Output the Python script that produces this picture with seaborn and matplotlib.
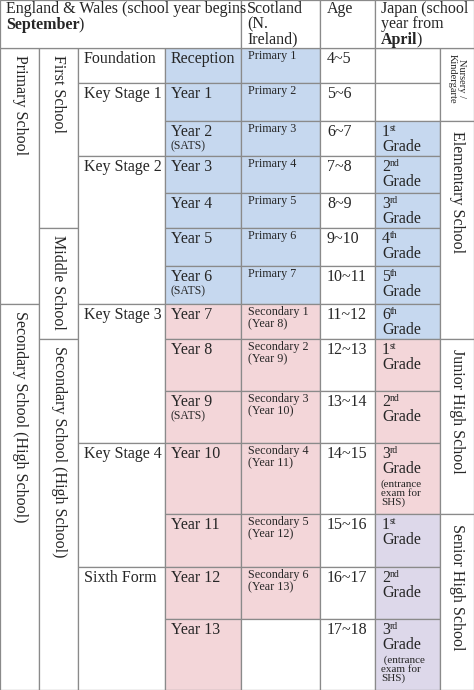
import matplotlib
matplotlib.use('Agg')
import matplotlib.pyplot as plt
import seaborn as sns
from matplotlib.patches import Rectangle

# grid geometry (pixels)
col_edges = [0, 39, 78, 165, 241, 320, 375, 440, 474]
row_edges = [48, 83, 121, 156, 193, 228, 266, 304, 339, 391, 443, 514, 567, 619, 690]

years = ["Reception", "Year 1", "Year 2", "Year 3", "Year 4", "Year 5", "Year 6",
         "Year 7", "Year 8", "Year 9", "Year 10", "Year 11", "Year 12", "Year 13"]
sats = ["", "", "(SATS)", "", "", "", "(SATS)", "", "", "(SATS)", "", "", "", ""]
scotland = ["Primary 1", "Primary 2", "Primary 3", "Primary 4", "Primary 5", "Primary 6",
            "Primary 7", "Secondary 1\n(Year 8)", "Secondary 2\n(Year 9)",
            "Secondary 3\n(Year 10)", "Secondary 4\n(Year 11)", "Secondary 5\n(Year 12)",
            "Secondary 6\n(Year 13)", ""]
ages = ["4~5", "5~6", "6~7", "7~8", "8~9", "9~10", "10~11", "11~12", "12~13",
        "13~14", "14~15", "15~16", "16~17", "17~18"]
japan_num = ["", "", "1", "2", "3", "4", "5", "6", "1", "2", "3", "1", "2", "3"]
japan_sup = ["", "", "st", "nd", "rd", "th", "th", "th", "st", "nd", "rd", "st", "nd", "rd"]
japan_note = ["", "", "", "", "", "", "", "", "", "", "(entrance\nexam for\nSHS)", "", "",
              " (entrance\nexam for\nSHS)"]
year_colour = ["blue"] * 7 + ["pink"] * 7
scot_colour = ["blue"] * 7 + ["pink"] * 6 + [None]
japan_colour = [None, None] + ["blue"] * 6 + ["pink"] * 3 + ["lav"] * 3

# (label, first row, last row)
school_a = [("Primary School", 0, 6), ("Secondary School (High School)", 7, 13)]
school_b = [("First School", 0, 4), ("Middle School", 5, 7), ("Secondary School (High School)", 8, 13)]
stages = [("Foundation", 0, 0), ("Key Stage 1", 1, 2), ("Key Stage 2", 3, 6),
          ("Key Stage 3", 7, 9), ("Key Stage 4", 10, 11), ("Sixth Form", 12, 13)]
japan_schools = [("Nursery /\nKindergarte", 0, 1), ("Elementary School", 2, 7),
                 ("Junior High School", 8, 10), ("Senior High School", 11, 13)]

colours = {"blue": "#c6d8ef", "pink": "#f3d6d9", "lav": "#ddd8ea"}
line_c = "#8a8a8a"

sns.set_style("white")
plt.rcParams['font.family'] = ['Liberation Serif', 'DejaVu Serif']

fig = plt.figure(figsize=(4.74, 6.9), dpi=100)
ax = fig.add_axes([0, 0, 1, 1])
ax.set_xlim(0, 474)
ax.set_ylim(690, 0)
ax.axis("off")


def cell(c, r0, r1, colour=None):
    x0, x1 = col_edges[c], col_edges[c + 1]
    y0, y1 = row_edges[r0], row_edges[r1 + 1]
    ax.add_patch(Rectangle((x0, y0), x1 - x0, y1 - y0, facecolor=colours.get(colour, "white"),
                           edgecolor=line_c, linewidth=0.9))
    return x0, y0, x1, y1


fs = 11.5
for lab, r0, r1 in school_a:
    x0, y0, x1, y1 = cell(0, r0, r1)
    ax.text((x0 + x1) / 2, y0 + 7, lab, rotation=-90, ha="center", va="top", fontsize=fs)
for lab, r0, r1 in school_b:
    x0, y0, x1, y1 = cell(1, r0, r1)
    ax.text((x0 + x1) / 2, y0 + 7, lab, rotation=-90, ha="center", va="top", fontsize=fs)
for lab, r0, r1 in stages:
    x0, y0, x1, y1 = cell(2, r0, r1)
    ax.text(x0 + 6, y0 + 3, lab, ha="left", va="top", fontsize=fs)

for i in range(len(years)):
    x0, y0, x1, y1 = cell(3, i, i, year_colour[i])
    ax.text(x0 + 6, y0 + 3, years[i], ha="left", va="top", fontsize=fs)
    if sats[i]:
        ax.text(x0 + 6, y0 + 19, sats[i], ha="left", va="top", fontsize=8.5)
    x0, y0, x1, y1 = cell(4, i, i, scot_colour[i])
    ax.text(x0 + 7, y0 + 2, scotland[i], ha="left", va="top", fontsize=8.7, linespacing=1.0)
    x0, y0, x1, y1 = cell(5, i, i)
    ax.text(x0 + 7, y0 + 3, ages[i], ha="left", va="top", fontsize=fs)

for i in range(len(years)):
    x0, y0, x1, y1 = cell(6, i, i, japan_colour[i])
    if japan_num[i]:
        ax.text(x0 + 7, y0 + 3, japan_num[i], ha="left", va="top", fontsize=fs)
        ax.text(x0 + 14.5, y0 + 3, japan_sup[i], ha="left", va="top", fontsize=7)
        ax.text(x0 + 7, y0 + 18, "Grade", ha="left", va="top", fontsize=fs)
    if japan_note[i]:
        ax.text(x0 + 6, y0 + 36, japan_note[i], ha="left", va="top", fontsize=8, linespacing=1.0)

for lab, r0, r1 in japan_schools:
    x0, y0, x1, y1 = cell(7, r0, r1)
    small = "\n" in lab
    ax.text((x0 + x1) / 2, y0 + (6 if small else 10), lab, rotation=-90, ha="center", va="top",
            fontsize=7.5 if small else fs, linespacing=1.0)

# header
for x0, x1 in [(0, 241), (241, 320), (320, 375), (375, 474)]:
    ax.add_patch(Rectangle((x0, 0), x1 - x0, 48, facecolor="white", edgecolor=line_c, linewidth=0.9))
ax.text(6, 1, "England & Wales (school year begins", ha="left", va="top", fontsize=fs)
t = ax.text(6, 17, "September", ha="left", va="top", fontsize=fs, fontweight="bold")
ax.text(247, 1, "Scotland\n(N.\nIreland)", ha="left", va="top", fontsize=fs, linespacing=0.95)
ax.text(327, 1, "Age", ha="left", va="top", fontsize=fs)
ax.text(381, 1, "Japan (school\nyear from", ha="left", va="top", fontsize=fs, linespacing=0.95)
t2 = ax.text(381, 32, "April", ha="left", va="top", fontsize=fs, fontweight="bold")

fig.canvas.draw()
inv = ax.transData.inverted()
for tx in (t, t2):
    bb = tx.get_window_extent()
    xr = inv.transform((bb.x1, bb.y1))[0]
    ax.text(xr - 1, tx.get_position()[1], ")", ha="left", va="top", fontsize=fs)

fig.savefig("out.png", dpi=100)
